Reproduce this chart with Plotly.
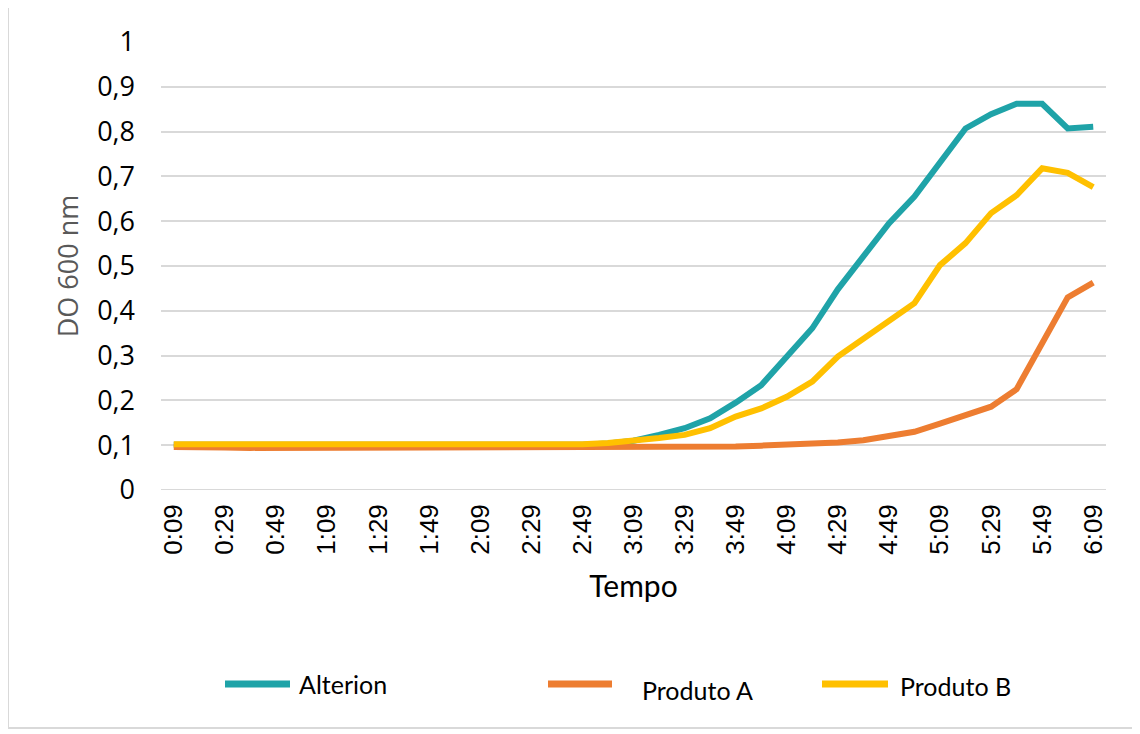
import plotly.graph_objects as go

# tempo (every 10 min)
tempo = ['0:09', '0:19', '0:29', '0:39', '0:49', '0:59', '1:09', '1:19', '1:29', '1:39',
         '1:49', '1:59', '2:09', '2:19', '2:29', '2:39', '2:49', '2:59', '3:09', '3:19',
         '3:29', '3:39', '3:49', '3:59', '4:09', '4:19', '4:29', '4:39', '4:49', '4:59',
         '5:09', '5:19', '5:29', '5:39', '5:49', '5:59', '6:09']
tick_labels = tempo[::2]

alterion = [0.101, 0.101, 0.100, 0.099, 0.099, 0.099, 0.099, 0.098, 0.098, 0.098,
            0.098, 0.099, 0.099, 0.099, 0.099, 0.100, 0.101, 0.104, 0.110, 0.123,
            0.138, 0.160, 0.195, 0.234, 0.298, 0.361, 0.448, 0.521, 0.595, 0.655,
            0.732, 0.807, 0.839, 0.862, 0.862, 0.807, 0.811]
produto_a = [0.096, 0.094, 0.095, 0.094, 0.094, 0.095, 0.094, 0.094, 0.094, 0.095,
             0.095, 0.095, 0.094, 0.094, 0.094, 0.094, 0.094, 0.094, 0.094, 0.095,
             0.096, 0.096, 0.097, 0.099, 0.101, 0.103, 0.106, 0.111, 0.119, 0.130,
             0.148, 0.167, 0.186, 0.225, 0.330, 0.430, 0.463]
produto_b = [0.102, 0.102, 0.101, 0.100, 0.100, 0.100, 0.100, 0.099, 0.099, 0.099,
             0.099, 0.100, 0.100, 0.100, 0.100, 0.101, 0.102, 0.105, 0.109, 0.116,
             0.123, 0.138, 0.164, 0.182, 0.208, 0.242, 0.298, 0.339, 0.376, 0.417,
             0.502, 0.551, 0.618, 0.658, 0.718, 0.708, 0.676]

names = ['Alterion', 'Produto A', 'Produto B']
colors = ['#1FA3A8', '#ED7D31', '#FFC000']
values = [alterion, produto_a, produto_b]

fig = go.Figure()
for name, vals, col in zip(names, values, colors):
    fig.add_trace(go.Scatter(x=tempo, y=vals, name=name, mode='lines',
                             line=dict(color=col, width=6)))

narrow = 'Lato, Open Sans, sans-serif'

fig.update_layout(
    width=1140, height=734,
    margin=dict(l=153, r=42, t=34, b=252),
    paper_bgcolor='white', plot_bgcolor='white',
    separators=',.',
    font=dict(family='Open Sans, sans-serif', color='#000000'),
    showlegend=False,
)
fig.update_xaxes(type='category', categoryorder='array', categoryarray=tempo,
                 range=[-0.5, len(tempo) - 0.5],
                 tickvals=tick_labels, ticktext=tick_labels, tickangle=-90,
                 tickfont=dict(family='Liberation Sans, Arial, sans-serif', size=26),
                 ticklabelstandoff=8,
                 showgrid=False, showline=False, ticks='',
                 title=dict(text='Tempo', font=dict(family=narrow, size=30), standoff=22))
fig.update_yaxes(range=[0, 1], dtick=0.1, showgrid=True, gridcolor='#D9D9D9', gridwidth=2,
                 zeroline=False, showline=False, ticks='', tickfont=dict(size=27),
                 ticklabelstandoff=25,
                 title=dict(text='DO 600 nm', font=dict(size=27, color='#595959'), standoff=10))
fig.add_hline(y=0, line=dict(color='#D9D9D9', width=2), layer='below')

# legend drawn by hand (Excel-style long line samples)
leg_line_x = [(225, 290), (548, 612), (822, 888)]
leg_text_x = [297, 640, 898]
leg_text_y = [684, 690, 686]
for (a, b), tx, ty, name, col in zip(leg_line_x, leg_text_x, leg_text_y, names, colors):
    fig.add_shape(type='line', xref='paper', yref='paper',
                  x0=(a - 161) / 945, x1=(b - 161) / 945,
                  y0=(490 - 684) / 448, y1=(490 - 684) / 448,
                  line=dict(color=col, width=7))
    fig.add_annotation(xref='paper', yref='paper', x=(tx - 161) / 945, y=(490 - ty) / 448,
                       text=name, showarrow=False, xanchor='left', yanchor='middle',
                       font=dict(family=narrow, size=25, color='#000000'))

# outer chart border
fig.add_shape(type='rect', xref='paper', yref='paper',
              x0=(8 - 161) / 945, x1=(1135 - 161) / 945,
              y0=(490 - 728) / 448, y1=(490 - 5) / 448,
              line=dict(color='#D9D9D9', width=2))

fig.write_html('out.html')
